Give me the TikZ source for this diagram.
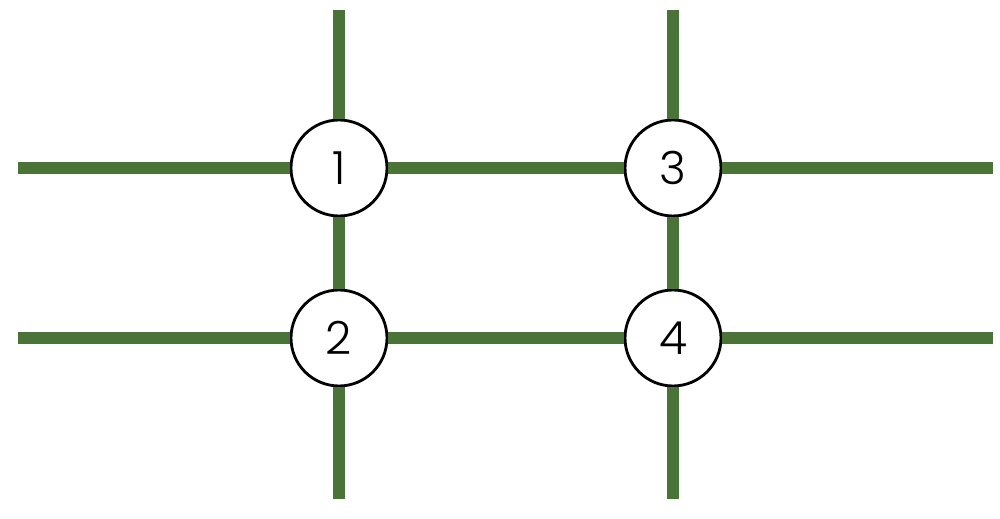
\documentclass[tikz,border=0pt]{standalone}
\usepackage{fontspec}
\setmainfont{Poppins}[UprightFont=* Light]
\usepackage{xcolor}
\usetikzlibrary{positioning}
\definecolor{gridgreen}{RGB}{74,115,55}

\begin{document}
\begin{tikzpicture}[
  x=0.02cm, y=-0.02cm,
  crossnode/.style={circle, draw, line width=1.6pt, fill=white, minimum size=1.92cm, inner sep=0pt, font=\fontsize{26}{30}\selectfont},
  gridline/.style={line width=6.8pt, color=gridgreen},
]
  \useasboundingbox (0,0) rectangle (1000,519);

  % === Crossings ===
  \node[crossnode] (n1) at (339, 168) {1};
  \node[crossnode] (n2) at (339, 338) {2};
  \node[crossnode] (n3) at (673, 168) {3};
  \node[crossnode] (n4) at (673, 338) {4};

  % === Free ends ===
  \coordinate (top1) at (339, 10);
  \coordinate (bot1) at (339, 499);
  \coordinate (top3) at (673, 10);
  \coordinate (bot3) at (673, 499);
  \coordinate (left1) at (18, 168);
  \coordinate (right1) at (993, 168);
  \coordinate (left2) at (18, 338);
  \coordinate (right2) at (993, 338);

  % === Vertical lines ===
  \draw[gridline] (top1) -- (n1);
  \draw[gridline] (n1) -- (n2);
  \draw[gridline] (n2) -- (bot1);
  \draw[gridline] (top3) -- (n3);
  \draw[gridline] (n3) -- (n4);
  \draw[gridline] (n4) -- (bot3);

  % === Horizontal lines ===
  \draw[gridline] (left1) -- (n1);
  \draw[gridline] (n1) -- (n3);
  \draw[gridline] (n3) -- (right1);
  \draw[gridline] (left2) -- (n2);
  \draw[gridline] (n2) -- (n4);
  \draw[gridline] (n4) -- (right2);

\end{tikzpicture}
\end{document}
